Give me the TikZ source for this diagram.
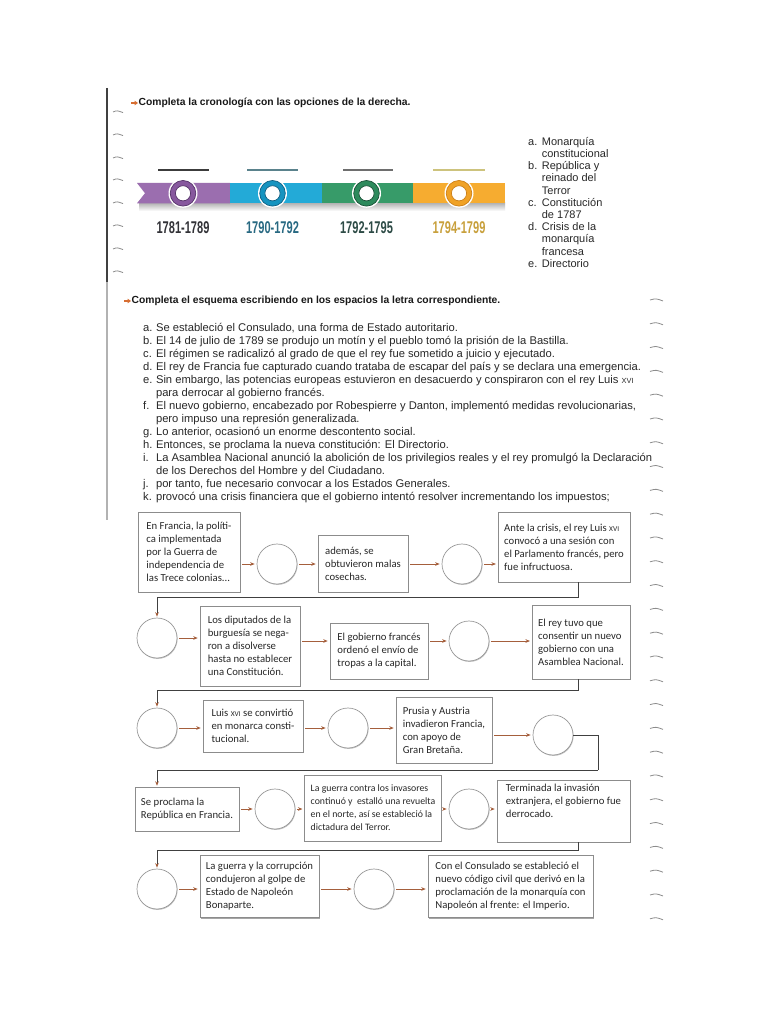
\documentclass[tikz,border=0pt]{standalone}
\usepackage{fontspec}
\setmainfont{Liberation Sans}
\newfontfamily\boxfont{Carlito}
\newfontfamily\yearfont[FakeStretch=0.65]{Liberation Sans}
\usetikzlibrary{arrows.meta,shadows}
\definecolor{txt}{RGB}{40,40,40}
\definecolor{arrowc}{RGB}{165,95,60}
\definecolor{titlearrow}{RGB}{215,110,50}
\definecolor{purpleband}{RGB}{155,110,175}
\definecolor{purplering}{RGB}{135,88,158}
\definecolor{purpledark}{RGB}{85,50,105}
\definecolor{blueband}{RGB}{35,170,215}
\definecolor{bluering}{RGB}{22,148,192}
\definecolor{bluedark}{RGB}{15,95,130}
\definecolor{greenband}{RGB}{55,155,105}
\definecolor{greenring}{RGB}{45,138,92}
\definecolor{greendark}{RGB}{25,80,55}
\definecolor{orangeband}{RGB}{246,172,48}
\definecolor{orangering}{RGB}{240,162,38}
\definecolor{orangedark}{RGB}{205,128,22}
\definecolor{yc1}{RGB}{50,50,55}
\definecolor{yc2}{RGB}{40,105,130}
\definecolor{yc3}{RGB}{45,75,70}
\definecolor{yc4}{RGB}{200,160,60}
\definecolor{lc1}{RGB}{60,60,60}
\definecolor{lc2}{RGB}{90,130,140}
\definecolor{lc3}{RGB}{110,110,110}
\definecolor{lc4}{RGB}{205,195,125}
\newcommand\scx[1]{{\fontsize{7.4}{7.4}\selectfont #1}}
\begin{document}
\begin{tikzpicture}[x=1pt,y=-1pt,
  fbox/.style={draw=black!45, fill=white, line width=0.5pt, inner xsep=6pt, inner ysep=3pt,
    align=left, font=\boxfont\fontsize{10.7}{13}\selectfont, text=txt,
    drop shadow={shadow xshift=0.7pt,shadow yshift=-1.1pt,opacity=0.35,fill=black}},
  circ/.style={circle, draw=black!40, fill=white, line width=0.7pt, minimum size=40pt, inner sep=0pt,
    drop shadow={shadow xshift=0.6pt,shadow yshift=-0.9pt,opacity=0.25,fill=black}},
  arr/.style={draw=arrowc, line width=0.8pt, -{Stealth[length=4.5pt,width=3.6pt]}, shorten <=2pt, shorten >=2pt},
  conn/.style={draw=black!75, line width=0.9pt, -{Stealth[length=4.5pt,width=3.6pt,color=arrowc]}, shorten >=1pt},
  tick/.style={draw=black!45, line width=0.8pt},
  year/.style={font=\yearfont\bfseries\fontsize{17}{17}\selectfont, inner sep=0pt},
  title/.style={font=\bfseries\fontsize{10.3}{12}\selectfont, text=black!90, inner sep=0pt, anchor=west},
  listf/.style={font=\fontsize{11.2}{13}\selectfont, text=txt, inner sep=0pt, anchor=north west}
]
\useasboundingbox[fill=white] (0,0) rectangle (768,1024);

% margin lines and ticks
\draw[line width=1.6pt, draw=black!75] (107,88) -- (107,282);
\draw[line width=1.1pt, draw=black!30] (107,282) -- (107,520);
\foreach \y in {112,135,158,180,203,226,249,272}
  \draw[tick] (113,\y) .. controls (117,\y-1.6) .. (123,\y+0.6);
\foreach \i in {0,...,26}
  \draw[tick] (650,300+23.8*\i) .. controls (656,298.4+23.8*\i) .. (663,301+23.8*\i);

% ---------- title 1 ----------
\fill[titlearrow] (131,102.2) rectangle (134.5,103.8);
\fill[titlearrow] (134.5,100.6) -- (138,103) -- (134.5,105.4) -- cycle;
\node[title] (t1) at (138.5,103) {Completa la cronología con las opciones de la derecha.};

% ---------- timeline ----------
\shade[top color=black!30, bottom color=white] (139,203) rectangle (505,211);
\fill[purpleband] (137,183) -- (230,183) -- (230,203.3) -- (137,203.3) -- (145,193.2) -- cycle;
\fill[blueband] (230,183) rectangle (321.5,203.3);
\fill[greenband] (321.5,183) rectangle (413,203.3);
\fill[orangeband] (413,183) rectangle (505,203.3);

\foreach \n/\x/\rc/\dc in {r1/183/purplering/purpledark, r2/272.5/bluering/bluedark,
                         r3/366.5/greenring/greendark, r4/459/orangering/orangedark}{
  \node[circle, fill=white, minimum size=29pt, inner sep=0pt] (\n) at (\x,193.3) {};
  \fill[\rc] (\n) circle (12.8);
  \draw[\dc, line width=0.7pt] (\n) circle (12.8);
  \fill[white] (\n) circle (7.6);
  \draw[\dc, line width=0.7pt] (\n) circle (7.6);
}

\draw[lc1, line width=1.2pt] (158,170) -- (209,170);
\draw[lc2, line width=1.2pt] (247,170) -- (298,170);
\draw[lc3, line width=1.2pt] (343,170) -- (393,170);
\draw[lc4, line width=1.2pt] (433,170) -- (485,170);

\node[year, text=yc1] (y1) at (183,228) {1781-1789};
\node[year, text=yc2] (y2) at (272.5,228) {1790-1792};
\node[year, text=yc3] (y3) at (366.5,228) {1792-1795};
\node[year, text=yc4] (y4) at (459,228) {1794-1799};

% options list
\node[listf] (opts) at (528,136.5) {\fontsize{11}{12.2}\selectfont
\begin{tabular}{@{}l@{\hspace{4.5pt}}l@{}}
a. & Monarquía\\
   & constitucional\\
b. & República y\\
   & reinado del\\
   & Terror\\
c. & Constitución\\
   & de 1787\\
d. & Crisis de la\\
   & monarquía\\
   & francesa\\
e. & Directorio
\end{tabular}};

% ---------- title 2 ----------
\fill[titlearrow] (124,300.2) rectangle (127.5,301.8);
\fill[titlearrow] (127.5,298.6) -- (131,301) -- (127.5,303.4) -- cycle;
\node[title] (t2) at (131.5,301) {Completa el esquema escribiendo en los espacios la letra correspondiente.};

\node[listf] (lst) at (143,322.5) {%
\begin{tabular}{@{}l@{\hspace{3.5pt}}l@{}}
a. & Se estableció el Consulado, una forma de Estado autoritario.\\
b. & El 14 de julio de 1789 se produjo un motín y el pueblo tomó la prisión de la Bastilla.\\
c. & El régimen se radicalizó al grado de que el rey fue sometido a juicio y ejecutado.\\
d. & El rey de Francia fue capturado cuando trataba de escapar del país y se declara una emergencia.\\
e. & Sin embargo, las potencias europeas estuvieron en desacuerdo y conspiraron con el rey Luis \scx{XVI}\\
   & para derrocar al gobierno francés.\\
f. & El nuevo gobierno, encabezado por Robespierre y Danton, implementó medidas revolucionarias,\\
   & pero impuso una represión generalizada.\\
g. & Lo anterior, ocasionó un enorme descontento social.\\
h. & Entonces, se proclama la nueva constitución: El Directorio.\\
i. & La Asamblea Nacional anunció la abolición de los privilegios reales y el rey promulgó la Declaración\\
   & de los Derechos del Hombre y del Ciudadano.\\
j. & por tanto, fue necesario convocar a los Estados Generales.\\
k. & provocó una crisis financiera que el gobierno intentó resolver incrementando los impuestos;
\end{tabular}};

% ---------- flowchart ----------
% row 1
\node[fbox, minimum width=102pt, minimum height=80pt] (b1) at (189,552) {En Francia, la políti-\\ca implementada\\por la Guerra de\\independencia de\\las Trece colonias...};
\node[circ] (c1) at (277,564) {};
\node[fbox, minimum width=90pt, minimum height=57pt] (b2) at (363,563.5) {además, se\\obtuvieron malas\\cosechas.};
\node[circ] (c2) at (462,564) {};
\node[fbox, minimum width=128pt, minimum height=70pt] (b3) at (564,547) {Ante la crisis, el rey Luis \scx{XVI}\\convocó a una sesión con\\el Parlamento francés, pero\\fue infructuosa.};
\draw[arr] (b1.east |- c1) -- (c1);
\draw[arr] (c1) -- (c1 -| b2.west);
\draw[arr] (b2.east |- c2) -- (c2);
\draw[arr] (c2) -- (c2 -| b3.west);

% row 2
\node[circ] (c3) at (157,638) {};
\node[fbox, minimum width=100pt, minimum height=80pt] (b4) at (250,646) {Los diputados de la\\burguesía se nega-\\ron a disolverse\\hasta no establecer\\una Constitución.};
\node[fbox, minimum width=98pt, minimum height=56pt] (b5) at (379,651) {El gobierno francés\\ordenó el envío de\\tropas a la capital.};
\node[circ] (c4) at (469,641) {};
\node[fbox, minimum width=97pt, minimum height=74pt] (b6) at (581,642) {El rey tuvo que\\consentir un nuevo\\gobierno con una\\Asamblea Nacional.};
\coordinate (k1) at (578,597);
\draw[conn] (b3.south -| k1) -- (k1) -| (c3.north);
\draw[arr] (c3) -- (c3 -| b4.west);
\draw[arr] (b4.east |- c4) -- (c4 -| b5.west);
\draw[arr] (b5.east |- c4) -- (c4);
\draw[arr] (c4) -- (c4 -| b6.west);

% row 3
\node[circ] (c5) at (157,728) {};
\node[fbox, minimum width=100pt, minimum height=52pt] (b7) at (253,726) {Luis \scx{XVI} se convirtió\\en monarca consti-\\tucional.};
\node[circ] (c6) at (348,728) {};
\node[fbox, minimum width=96pt, minimum height=66pt] (b8) at (444,730) {Prusia y Austria\\invadieron Francia,\\con apoyo de\\Gran Bretaña.};
\node[circ] (c7) at (553,735) {};
\coordinate (k2) at (578,690);
\draw[conn] (b6.south -| k2) -- (k2) -| (c5.north);
\draw[arr] (c5) -- (c5 -| b7.west);
\draw[arr] (b7.east |- c6) -- (c6);
\draw[arr] (c6) -- (c6 -| b8.west);
\draw[arr] (b8.east |- c7) -- (c7);

% row 4
\node[fbox, minimum width=98pt, minimum height=44pt] (b9) at (187,809) {Se proclama la\\República en Francia.};
\node[circ] (c8) at (275,809) {};
\node[fbox, minimum width=136pt, minimum height=66pt, font=\boxfont\fontsize{9.8}{13}\selectfont] (b10) at (373,808) {La guerra contra los invasores\\continuó y \ estalló una revuelta\\en el norte, así se estableció la\\dictadura del Terror.};
\node[circ] (c9) at (469,809) {};
\node[fbox, minimum width=133pt, minimum height=62pt] (b11) at (563.5,811) {Terminada la invasión\\extranjera, el gobierno fue\\derrocado.\\[8pt]};
\coordinate (k3) at (598,770);
\draw[draw=black!75, line width=0.9pt] (c7.east) -- (c7.east -| k3) -- (k3);
\draw[conn] (k3) -| (c5 |- b9.north);
\draw[arr] (b9.east |- c8) -- (c8);
\draw[arr] (c8) -- (c8 -| b10.west);
\draw[arr] (b10.east |- c9) -- (c9);
\draw[arr] (c9) -- (c9 -| b11.west);

% row 5
\node[circ] (c10) at (157,889) {};
\node[fbox, minimum width=109pt, minimum height=62pt] (b12) at (259.5,886.5) {La guerra y la corrupción\\condujeron al golpe de\\Estado de Napoleón\\Bonaparte.};
\node[circ] (c11) at (374,889) {};
\node[fbox, minimum width=165pt, minimum height=62pt] (b13) at (510.5,886.5) {Con el Consulado se estableció el\\nuevo código civil que derivó en la\\proclamación de la monarquía con\\Napoleón al frente: el Imperio.};
\coordinate (k4) at (578,850);
\draw[conn] (b11.south -| k4) -- (k4) -| (c10.north);
\draw[arr] (c10) -- (c10 -| b12.west);
\draw[arr] (b12.east |- c11) -- (c11);
\draw[arr] (c11) -- (c11 -| b13.west);
\end{tikzpicture}
\end{document}
